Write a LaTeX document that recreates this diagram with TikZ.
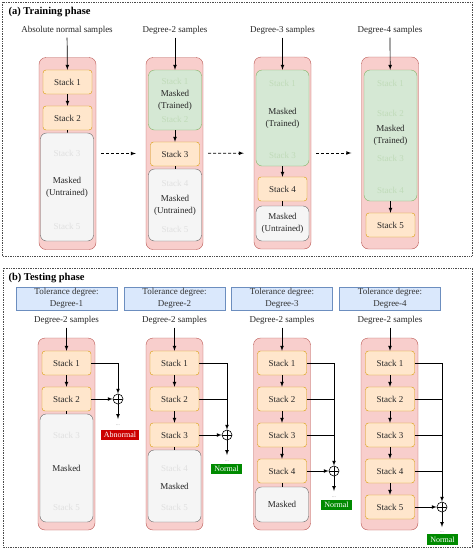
\documentclass[tikz,border=0pt]{standalone}
\usepackage{fontspec}
\setmainfont{Liberation Serif}
\usetikzlibrary{arrows, positioning, calc}
\usepackage{xcolor}

\definecolor{colfill}{HTML}{F8CECC}
\definecolor{coldraw}{HTML}{B85450}
\definecolor{stkfill}{HTML}{FFE6CC}
\definecolor{stkdraw}{HTML}{D79B00}
\definecolor{trfill}{HTML}{D5E8D4}
\definecolor{trdraw}{HTML}{82B366}
\definecolor{unfill}{HTML}{F5F5F5}
\definecolor{undraw}{HTML}{666666}
\definecolor{tolfill}{HTML}{DAE8FC}
\definecolor{toldraw}{HTML}{6C8EBF}
\definecolor{badfill}{HTML}{CC0000}
\definecolor{okfill}{HTML}{008A00}

\newcommand{\boxfont}{\fontsize{9}{12}\selectfont}

\tikzset{
	column/.style={draw=coldraw, fill=colfill, rounded corners=7pt, minimum width=57pt, minimum height=192pt, inner sep=0pt},
	stackbox/.style={draw=stkdraw, fill=stkfill, rounded corners=3pt, minimum width=49pt, minimum height=24pt, inner sep=0pt, font=\boxfont, text=black!85},
	trained/.style={draw=trdraw, fill=trfill, rounded corners=6pt, minimum width=53pt, inner sep=0pt, align=center, font=\boxfont, text=black!85},
	untrained/.style={draw=undraw, fill=unfill, rounded corners=6pt, minimum width=53pt, inner sep=0pt, align=center, font=\boxfont, text=black!85},
	ghost/.style={text=black!12, font=\boxfont, inner sep=1pt},
	greenghost/.style={text=trdraw!25!trfill, font=\boxfont, inner sep=1pt},
	tolbox/.style={draw=toldraw, fill=tolfill, minimum width=101pt, minimum height=23pt, inner sep=0pt, align=center, font=\boxfont, text=black!80},
	sample/.style={font=\boxfont, text=black!85},
	sumnode/.style={circle, draw, fill=white, minimum size=10pt, inner sep=0pt, line width=0.6pt,
		path picture={\draw[line width=0.6pt] (path picture bounding box.north) -- (path picture bounding box.south)
			(path picture bounding box.west) -- (path picture bounding box.east);}},
	verdict/.style={minimum width=31pt, minimum height=10pt, inner sep=1pt, text=white, font=\fontsize{8}{8.5}\selectfont},
	dots/.style={font=\fontsize{5}{5}\selectfont, text=black!50, inner sep=0pt},
	panel/.style={draw=black!70, densely dotted, line width=0.7pt},
	flow/.style={->, >=latex, line width=0.7pt},
	nextstage/.style={->, >=latex, densely dashed, line width=0.7pt, shorten <=5pt, shorten >=10pt}
}

\begin{document}
\begin{tikzpicture}[x=1pt, y=-1pt]
	\useasboundingbox (0,0) rectangle (474,550);

	% panels
	\draw[panel] (2,2) rectangle (472,256);
	\draw[panel] (3,268) rectangle (472,547);
	\node[anchor=west, font=\bfseries\fontsize{10.5}{12}\selectfont] (ttrain) at (5,12) {(a) Training phase};
	\node[anchor=west, font=\bfseries\fontsize{10.5}{12}\selectfont] (ttest) at (5,278) {(b) Testing phase};

	% training, stage 1
	\node[sample] (in1) at (67,30) {Absolute normal samples};
	\node[column] (c1) at (67.5,153.5) {};
	\node[stackbox] (a11) at (67.5,82) {Stack 1};
	\node[stackbox] (a12) at (67.5,118) {Stack 2};
	\node[untrained, minimum height=108pt] (a1m) at (67,187) {Masked\\(Untrained)};
	\node[ghost] (a1g3) at (67,153) {Stack 3};
	\node[ghost] (a1g5) at (67,226) {Stack 5};
	\draw[flow] (in1) -- (a11);
	\draw[flow] (a11) -- (a12);
	\draw[line width=0.7pt] (a12) -- (a1m);

	% training, stage 2
	\node[sample] (in2) at (175,30) {Degree-2 samples};
	\node[column] (c2) at (174.5,153.5) {};
	\node[trained, minimum height=60pt] (a2t) at (175,100) {Masked\\(Trained)};
	\node[greenghost] (a2g1) at (175,81) {Stack 1};
	\node[greenghost] (a2g2) at (175,119) {Stack 2};
	\node[stackbox] (a23) at (175,154) {Stack 3};
	\node[untrained, minimum height=72pt] (a2m) at (175,205) {Masked\\(Untrained)};
	\node[ghost] (a2g4) at (175,183) {Stack 4};
	\node[ghost] (a2g5) at (175,229) {Stack 5};
	\draw[flow] (in2) -- (a2t);
	\draw[flow] (a2t) -- (a23);
	\draw[line width=0.7pt] (a23) -- (a2m);

	% training, stage 3
	\node[sample] (in3) at (282.5,30) {Degree-3 samples};
	\node[column] (c3) at (282.5,153) {};
	\node[trained, minimum height=96pt] (a3t) at (282.5,118) {Masked\\(Trained)};
	\node[greenghost] (a3g1) at (282.5,83) {Stack 1};
	\node[greenghost] (a3g3) at (282.5,155) {Stack 3};
	\node[stackbox] (a34) at (282.5,189) {Stack 4};
	\node[untrained, minimum height=35pt] (a3m) at (282.5,223.5) {Masked\\(Untrained)};
	\draw[flow] (in3) -- (a3t);
	\draw[flow] (a3t) -- (a34);
	\draw[line width=0.7pt] (a34) -- (a3m);

	% training, stage 4
	\node[sample] (in4) at (390,30) {Degree-4 samples};
	\node[column] (c4) at (390,153) {};
	\node[trained, minimum height=131pt] (a4t) at (390.5,135.5) {Masked\\(Trained)};
	\node[greenghost] (a4g1) at (390.5,83) {Stack 1};
	\node[greenghost] (a4g2) at (390.5,113) {Stack 2};
	\node[greenghost] (a4g3) at (390.5,158) {Stack 3};
	\node[greenghost] (a4g4) at (390.5,190) {Stack 4};
	\node[stackbox] (a45) at (390.5,225) {Stack 5};
	\draw[flow] (in4) -- (a4t);
	\draw[flow] (a4t) -- (a45);

	\draw[nextstage] (c1) -- (c2);
	\draw[nextstage] (c2) -- (c3);
	\draw[nextstage] (c3) -- (c4);

	% testing, degree 1
	\node[tolbox] (tol1) at (66.5,298.5) {Tolerance degree:\\Degree-1};
	\node[sample] (smp1) at (66.5,320) {Degree-2 samples};
	\node[column] (d1) at (66.5,434) {};
	\node[stackbox] (b11) at (66.5,363) {Stack 1};
	\node[stackbox] (b12) at (66.5,399) {Stack 2};
	\node[untrained, minimum height=108pt] (b1m) at (66.5,468) {Masked};
	\node[ghost] (b1g3) at (66.5,435) {Stack 3};
	\node[ghost] (b1g5) at (66.5,507) {Stack 5};
	\node[sumnode] (p1) at (118,399) {};
	\coordinate (o1) at (118,419);
	\node[dots] (e1) at (118,425) {...};
	\node[verdict, fill=badfill, minimum width=38pt] (v1) at (120,435) {Abnormal};
	\draw[flow] (smp1) -- (b11);
	\draw[flow] (b11) -- (b12);
	\draw[line width=0.7pt] (b12) -- (b1m);
	\draw[flow] (b11.east) -| (p1.north);
	\draw[flow] (b12) -- (p1);
	\draw[flow] (p1) -- (o1);

	% testing, degree 2
	\node[tolbox] (tol2) at (174.5,298.5) {Tolerance degree:\\Degree-2};
	\node[sample] (smp2) at (174.5,320) {Degree-2 samples};
	\node[column] (d2) at (174.5,434) {};
	\node[stackbox] (b21) at (174.5,363) {Stack 1};
	\node[stackbox] (b22) at (174.5,399) {Stack 2};
	\node[stackbox] (b23) at (174.5,435) {Stack 3};
	\node[untrained, minimum height=72pt] (b2m) at (174.5,486) {Masked};
	\node[ghost] (b2g4) at (174.5,468) {Stack 4};
	\node[ghost] (b2g5) at (174.5,507) {Stack 5};
	\node[sumnode] (p2) at (227,435) {};
	\coordinate (o2) at (227,455);
	\node[dots] (e2) at (227,461) {...};
	\node[verdict, fill=okfill] (v2) at (226.5,469) {Normal};
	\draw[flow] (smp2) -- (b21);
	\draw[flow] (b21) -- (b22);
	\draw[flow] (b22) -- (b23);
	\draw[line width=0.7pt] (b23) -- (b2m);
	\draw[flow] (b21.east) -| (p2.north);
	\draw[line width=0.7pt] (b22.east) -- (b22.east -| p2);
	\draw[flow] (b23) -- (p2);
	\draw[flow] (p2) -- (o2);

	% testing, degree 3
	\node[tolbox] (tol3) at (282,298.5) {Tolerance degree:\\Degree-3};
	\node[sample] (smp3) at (282,320) {Degree-2 samples};
	\node[column] (d3) at (282,434) {};
	\node[stackbox] (b31) at (282,363) {Stack 1};
	\node[stackbox] (b32) at (282,399) {Stack 2};
	\node[stackbox] (b33) at (282,435) {Stack 3};
	\node[stackbox] (b34) at (282,471) {Stack 4};
	\node[untrained, minimum height=35pt] (b3m) at (282,504.5) {Masked};
	\node[sumnode] (p3) at (334,471) {};
	\coordinate (o3) at (334,491);
	\node[dots] (e3) at (334,497) {...};
	\node[verdict, fill=okfill] (v3) at (336.5,505) {Normal};
	\draw[flow] (smp3) -- (b31);
	\draw[flow] (b31) -- (b32);
	\draw[flow] (b32) -- (b33);
	\draw[flow] (b33) -- (b34);
	\draw[line width=0.7pt] (b34) -- (b3m);
	\draw[flow] (b31.east) -| (p3.north);
	\draw[line width=0.7pt] (b32.east) -- (b32.east -| p3);
	\draw[line width=0.7pt] (b33.east) -- (b33.east -| p3);
	\draw[flow] (b34) -- (p3);
	\draw[flow] (p3) -- (o3);

	% testing, degree 4
	\node[tolbox] (tol4) at (390,298.5) {Tolerance degree:\\Degree-4};
	\node[sample] (smp4) at (390,320) {Degree-2 samples};
	\node[column] (d4) at (389.5,434) {};
	\node[stackbox] (b41) at (390,363) {Stack 1};
	\node[stackbox] (b42) at (390,399) {Stack 2};
	\node[stackbox] (b43) at (390,435) {Stack 3};
	\node[stackbox] (b44) at (390,471) {Stack 4};
	\node[stackbox] (b45) at (390,507) {Stack 5};
	\node[sumnode] (p4) at (442,507) {};
	\coordinate (o4) at (442,527);
	\node[dots] (e4) at (442,532) {...};
	\node[verdict, fill=okfill, minimum height=11pt] (v4) at (442.5,539.5) {Normal};
	\draw[flow] (smp4) -- (b41);
	\draw[flow] (b41) -- (b42);
	\draw[flow] (b42) -- (b43);
	\draw[flow] (b43) -- (b44);
	\draw[flow] (b44) -- (b45);
	\draw[flow] (b41.east) -| (p4.north);
	\draw[line width=0.7pt] (b42.east) -- (b42.east -| p4);
	\draw[line width=0.7pt] (b43.east) -- (b43.east -| p4);
	\draw[line width=0.7pt] (b44.east) -- (b44.east -| p4);
	\draw[flow] (b45) -- (p4);
	\draw[flow] (p4) -- (o4);
\end{tikzpicture}
\end{document}
